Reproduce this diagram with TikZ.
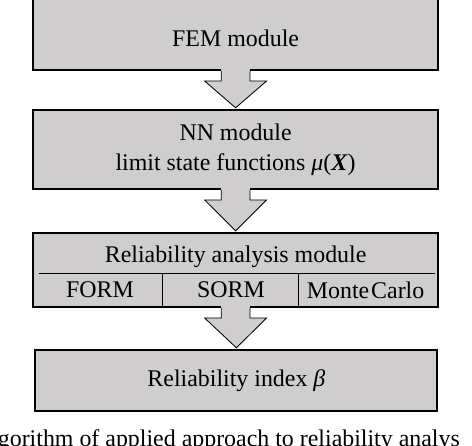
\documentclass[tikz,border=0pt]{standalone}
\usepackage{fontspec}
\setmainfont{Liberation Serif}
\usetikzlibrary{calc}
\definecolor{boxgray}{RGB}{207,205,206}
\begin{document}
\begin{tikzpicture}[
    modbox/.style = {draw, line width = 1.4pt, fill = boxgray, minimum width = 10.125cm,
      inner sep = 0pt, align = center, font = \fontsize{17}{21.5}\selectfont},
    modtext/.style = {inner sep = 0pt, font = \fontsize{17}{21.5}\selectfont},
    flowarrow/.style = {draw, line width = .6pt, fill = boxgray, line join = miter},
    sepline/.style = {line width = .7pt}
  ]
  \useasboundingbox (0, 0) rectangle (11.8, 11.15);
  \clip (0, 0) rectangle (11.8, 11.15);

  %%FEM
  \node[modbox, minimum height = 2.5cm, anchor = south] (fem) at (5.89, 9.375) {};
  \node[modtext] (femtext) at (5.89, 10.2) {FEM module};

  %%NN
  \node[modbox, minimum height = 1.975cm] (nn) at (5.89, 7.4125)
    {NN module\\limit state functions \textit{μ}(\textbf{\textit{X}})};

  %%reliability
  \node[modbox, minimum height = 1.85cm] (rel) at (5.89, 4.4) {};
  \node[modtext] (reltext) at (5.89, 4.72) {Reliability analysis module};
  \coordinate (sepl) at (0.975, 4.3);
  \coordinate (sepr) at (10.875, 4.3);
  \coordinate (sepa) at (4.05, 4.3);
  \coordinate (sepb) at (7.45, 4.3);
  \draw[sepline] (sepl) -- (sepr);
    \draw[sepline] (sepa) -- (sepa |- rel.south);
    \draw[sepline] (sepb) -- (sepb |- rel.south);
  \node[modtext] (form) at (2.5, 3.9) {FORM};
  \node[modtext] (sorm) at (5.775, 3.9) {SORM};
  \node[modtext] (mc) at (9.14, 3.9) {Monte\hspace{0.08em}Carlo};

  %%beta
  \node[modbox, minimum width = 10.05cm, minimum height = 1.525cm] (beta) at (5.91, 1.6375)
    {Reliability index \textit{β}};

  %%arrows
  \foreach \a/\b in {fem/nn, nn/rel, rel/beta}{
    \fill[boxgray] ($(\a.south)+(-0.36, 0.07)$) rectangle ($(\a.south)+(0.36, -0.02)$);
    \draw[flowarrow] ($(\a.south)+(-0.36, 0)$) -- ++(0, -0.25) -- ++(-0.415, 0)
      -- ($(\b.north)+(0, 0.03)$) -- ($(\a.south)+(0.775, -0.25)$) -- ++(-0.415, 0)
      -- ($(\a.south)+(0.36, 0)$);
  }

  \node[inner sep = 0pt, anchor = base west, font = \fontsize{17}{20}\selectfont] (caption)
    at (-0.06, -0.025) {gorithm of applied approach to reliability analys};
\end{tikzpicture}
\end{document}
